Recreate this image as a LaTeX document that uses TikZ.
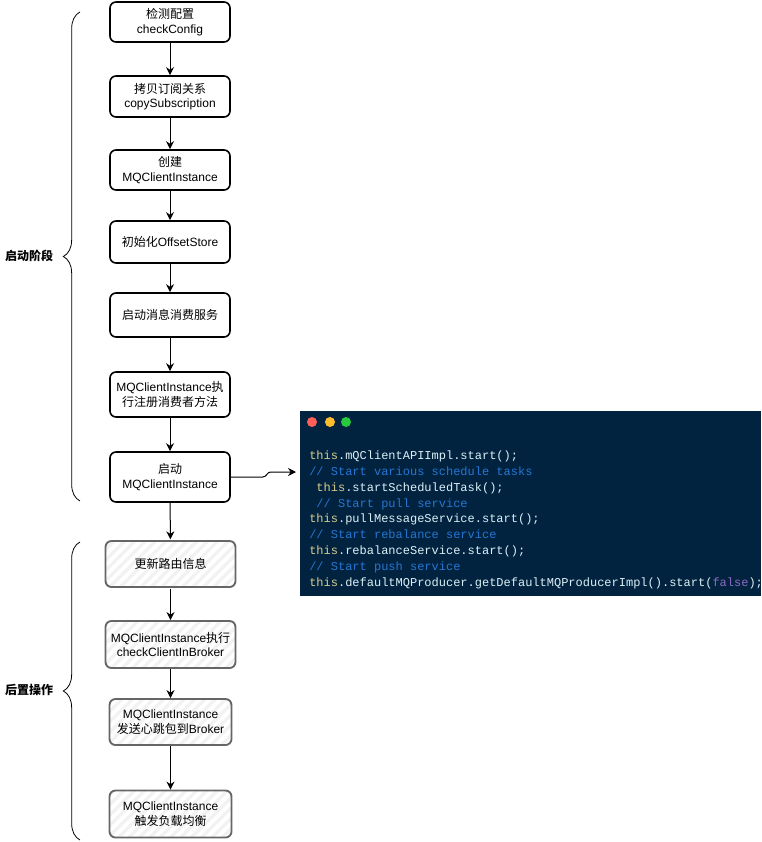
\documentclass[tikz,border=0pt]{standalone}
\usepackage{fontspec}
\setmainfont{Liberation Sans}
\setmonofont{Liberation Mono}
\newfontfamily\cjk{Noto Sans CJK SC}
\usetikzlibrary{arrows.meta, decorations.pathreplacing, patterns.meta}

\definecolor{codebg}{RGB}{1,35,64}
\definecolor{codefg}{RGB}{220,240,245}
\definecolor{codekw}{RGB}{216,206,140}
\definecolor{codecm}{RGB}{38,118,210}
\definecolor{codelit}{RGB}{140,108,192}
\newcommand{\zh}[1]{{\cjk #1}}
\newcommand{\kw}[1]{\textcolor{codekw}{#1}}
\newcommand{\cm}[1]{\textcolor{codecm}{#1}}

\begin{document}
\begin{tikzpicture}[
    x=0.75pt, y=-0.75pt,
    % Define styles
    stepbox/.style={rectangle, draw, line width=1.2pt, rounded corners=4.5pt, minimum width=90pt, minimum height=30pt, align=center, font=\fontsize{9}{10.8}\selectfont},
    postbox/.style={rectangle, draw=black!60, line width=1.4pt, rounded corners=4.5pt, minimum width=97.5pt, minimum height=34.5pt, align=center, font=\fontsize{9}{10.8}\selectfont, pattern={Lines[angle=45,distance=5.5pt,line width=2.5pt]}, pattern color=black!5},
    phase/.style={font=\fontsize{9}{10.8}\selectfont\cjk\bfseries},
    brace/.style={decorate, decoration={brace, amplitude=12.5pt}, line width=0.6pt},
    codebox/.style={rectangle, fill=codebg, minimum width=345.75pt, minimum height=138.75pt, inner sep=0pt},
    codetext/.style={inner sep=0pt, align=left, text=codefg, font=\fontsize{9}{11.9}\selectfont\ttfamily},
    light/.style={circle, inner sep=0pt, minimum size=7.5pt},
    line/.style={line width=0.75pt},
    arrow/.style={line width=0.75pt, -{Stealth[length=6pt, width=6pt]}}
]
\useasboundingbox (0,0) rectangle (761,842);

% Start phase steps
\node[stepbox] (check) at (170,22) {\zh{检测配置}\\checkConfig};
\node[stepbox, minimum height=30.75pt] (copysub) at (170,96.5) {\zh{拷贝订阅关系}\\copySubscription};
\node[stepbox] (create) at (170,170) {\zh{创建}\\MQClientInstance};
\node[stepbox, minimum height=31.5pt] (offset) at (170,242) {\zh{初始化}OffsetStore};
\node[stepbox, minimum height=33pt] (consume) at (170,315) {\zh{启动消息消费服务}};
\node[stepbox, minimum height=33.75pt] (register) at (170,394.5) {MQClientInstance\zh{执}\\\zh{行注册消费者方法}};
\node[stepbox, minimum height=37.5pt] (startinst) at (170,477) {\zh{启动}\\MQClientInstance};

% Post steps
\node[postbox] (route) at (170.5,564) {\zh{更新路由信息}};
\node[postbox, minimum height=35.25pt] (checkbroker) at (170.5,644.5) {MQClientInstance\zh{执行}\\checkClientInBroker};
\node[postbox, minimum width=91.5pt] (heartbeat) at (170.5,722) {MQClientInstance\\\zh{发送心跳包到}Broker};
\node[postbox, minimum width=91.5pt, minimum height=35.25pt] (rebalance) at (170.5,814) {MQClientInstance\\\zh{触发负载均衡}};

% Phase braces and labels
\draw[brace] (80,501) -- (80,12);
\draw[brace] (80,840) -- (80,542);
\node[phase] (startphase) at (29,256) {启动阶段};
\node[phase] (postphase) at (29,690) {后置操作};

% Code panel
\node[codebox, anchor=north west] (code) at (300,411) {};
\node[light, fill={rgb,255:red,255;green,95;blue,86}] (red) at (312,422) {};
\node[light, fill={rgb,255:red,255;green,189;blue,46}] (yellow) at (330,422) {};
\node[light, fill={rgb,255:red,39;green,201;blue,63}] (green) at (346,422) {};
\node[codetext, anchor=north west] (codetxt) at (309,450.5) {\kw{this}.mQClientAPIImpl.start();\\
\cm{// Start various schedule tasks}\\
\ \kw{this}.startScheduledTask();\\
\ \cm{// Start pull service}\\
\kw{this}.pullMessageService.start();\\
\cm{// Start rebalance service}\\
\kw{this}.rebalanceService.start();\\
\cm{// Start push service}\\
\kw{this}.defaultMQProducer.getDefaultMQProducerImpl().start(\textcolor{codelit}{false});};
\coordinate (codein) at (296,472);

% Flow
\draw[arrow] (check) -- (copysub);
\draw[arrow] (copysub) -- (create);
\draw[arrow] (create) -- (offset);
\draw[arrow] (offset) -- (consume);
\draw[arrow] (consume) -- (register);
\draw[arrow] (register) -- (startinst);
\draw[arrow] (startinst) -- (route);
\draw[arrow] (route) -- (checkbroker);
\draw[arrow] (checkbroker) -- (heartbeat);
\draw[arrow] (heartbeat) -- (rebalance);

% Link to code
\draw[arrow] (startinst.east) -- ++(32,0) .. controls +(4,0) and +(-4,0) .. ++(8,-5) -- (codein);

\end{tikzpicture}
\end{document}
